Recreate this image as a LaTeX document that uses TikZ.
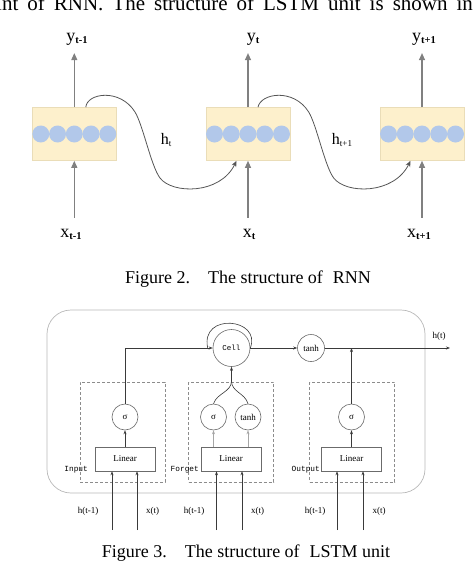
\documentclass[tikz,border=0pt]{standalone}
\usepackage{fontspec}
\setmainfont{Liberation Serif}
\newfontfamily\monof{Liberation Mono}
\usetikzlibrary{arrows.meta}
\definecolor{boxfill}{HTML}{FDF0CC}
\definecolor{boxline}{HTML}{EADDB8}
\definecolor{neu}{HTML}{B2C8EA}
\definecolor{garr}{HTML}{808080}
\definecolor{curv}{HTML}{555555}
\definecolor{frm}{HTML}{B8B8B8}
\definecolor{dsh}{HTML}{8C8C8C}
\definecolor{ln}{HTML}{3A3A3A}
\newcommand{\mysub}[1]{\raisebox{-2pt}{\fontsize{10.5}{10.5}\selectfont\bfseries #1}}
\newcommand{\myhsub}[1]{\raisebox{-2pt}{\fontsize{9}{9}\selectfont #1}}
\begin{document}
\begin{tikzpicture}[x=1pt,y=-1pt,
 rnnbox/.style={draw=boxline, fill=boxfill, minimum width=84pt, minimum height=53pt, inner sep=0pt, line width=0.6pt},
 neuron/.style={circle, fill=neu, minimum size=17pt, inner sep=0pt},
 garrow/.style={draw=garr, line width=1.1pt, -{Triangle[length=7pt,width=6pt]}},
 hcurve/.style={draw=curv, line width=0.8pt, -{Stealth[length=6pt,width=5pt]}},
 biglab/.style={anchor=base, inner sep=0pt, font=\fontsize{18}{18}\selectfont},
 hlab/.style={anchor=base, inner sep=0pt, font=\fontsize{16}{16}\selectfont},
 caption/.style={anchor=base, inner sep=0pt, font=\fontsize{18}{18}\selectfont},
 dbox/.style={draw=dsh, line width=0.6pt, dash pattern=on 3pt off 2pt, minimum width=85pt, minimum height=100pt, inner sep=0pt},
 linbox/.style={draw=ln!75, line width=0.6pt, fill=white, minimum width=60pt, minimum height=24pt, inner sep=0pt, font=\fontsize{9}{9}\selectfont},
 gate/.style={circle, draw=ln!75, line width=0.6pt, fill=white, minimum size=26pt, inner sep=0pt, font=\fontsize{9}{9}\selectfont},
 line/.style={draw=ln, line width=0.6pt},
 larrow/.style={draw=ln, line width=0.6pt, -{Stealth[length=4pt,width=3pt]}},
 lightarrow/.style={draw=ln!45, line width=0.6pt, -{Stealth[length=4pt,width=3pt]}},
 smlab/.style={inner sep=0pt, font=\fontsize{9}{9}\selectfont},
 gatelab/.style={anchor=base east, inner sep=0pt, font=\monof\fontsize{7.8}{8}\selectfont}
]
\useasboundingbox (0,0) rectangle (474,563);

% cut-off text line at the top
\node[anchor=base west, inner sep=0pt, font=\fontsize{21}{21}\selectfont] (toptext) at (-4,10)
  {\spaceskip=9pt int of RNN. The structure of LSTM unit is shown in};

% ---------------- RNN ----------------
\foreach \i/\cx in {1/74.3, 2/248, 3/422} {
  \node[rnnbox] (b\i) at (\cx,134) {};
  \foreach \k in {1,...,5}
    \node[neuron] (n\i\k) at (\cx-50.25+\k*16.75, 134) {};
}
\node[biglab] (y1) at (77,41) {y\mysub{t-1}};
\node[biglab] (y2) at (253,41) {y\mysub{t}};
\node[biglab] (y3) at (424,41) {y\mysub{t+1}};
\node[biglab] (x1) at (71,237) {x\mysub{t-1}};
\node[biglab] (x2) at (249,237) {x\mysub{t}};
\node[biglab] (x3) at (419,237) {x\mysub{t+1}};

\foreach \i in {1,2,3} {
  \draw[garrow, shorten >=8pt] (b\i.north) -- (b\i.north |- y\i.south);
  \draw[garrow, shorten <=11pt] (b\i.south |- x\i.north) -- (b\i.south);
}

\coordinate (c1s) at ([xshift=11.5pt]b1.north);
\coordinate (c1e) at ([xshift=-11.5pt]b2.south);
\coordinate (c2s) at ([xshift=10pt]b2.north);
\coordinate (c2e) at ([xshift=-11.5pt]b3.south);
\draw[hcurve] (c1s) .. controls (87,93) and (120,88) .. (135,112)
  .. controls (143,125) and (151,166) .. (160,178)
  .. controls (172,194) and (220,195) .. (c1e);
\begin{scope}[xshift=173.7pt]
\draw[hcurve] (c2s) .. controls (87,93) and (120,88) .. (135,112)
  .. controls (143,125) and (151,166) .. (160,178)
  .. controls (172,194) and (220,195) .. (c2e);
\end{scope}
\node[hlab] (h1) at (166,144) {h\myhsub{t}};
\node[hlab] (h2) at (342,144) {h\myhsub{t+1}};

\node[caption] (cap2) at (248,283) {Figure 2.\hspace{18pt}The structure of\hspace{10pt}RNN};

% ---------------- LSTM ----------------
\node[draw=frm, line width=0.7pt, rounded corners=24pt, minimum width=378pt, minimum height=183pt, inner sep=0pt] (frame) at (236,401.5) {};

\node[dbox] (di) at (122.5,432) {};
\node[dbox] (df) at (231,432) {};
\node[dbox] (dout) at (352,432) {};

\node[linbox] (li) at (125,459) {Linear};
\node[linbox] (lf) at (231,459) {Linear};
\node[linbox] (lo) at (351.5,459) {Linear};

\node[gate] (si) at (125,417) {σ};
\node[gate] (sf) at (213.5,417) {σ};
\node[gate] (tf) at (248,417) {tanh};
\node[gate] (so) at (351.5,417) {σ};

\node[circle, draw=ln!75, line width=0.6pt, fill=white, minimum size=37pt, inner sep=0pt, font=\monof\fontsize{7.5}{8}\selectfont] (cell) at (231.5,348) {Cell};
\node[gate, minimum size=27pt] (th) at (311,348) {tanh};

% self loop of the cell
\draw[line] (cell.east) .. controls (262,318) and (200,312) .. ([xshift=-5pt]cell.west);

\draw[larrow] (li) -- (si);
\draw[larrow] (si.north) |- (cell.west);
\draw[larrow] (cell) -- (th);
\coordinate (hend) at (450,348);
\draw[larrow] (th) -- (hend);
\node[smlab] (hout) at (439,336) {h(t)};
\coordinate (oj) at (351.5,348);
\draw[larrow] (so) -- (oj);
\draw[larrow] (lo) -- (so);

\draw[lightarrow] (sf.south |- lf.north) -- (sf.south);
\draw[lightarrow] (tf.south |- lf.north) -- (tf.south);
\coordinate (fm) at (231.5,381);
\draw[line] (sf.north) .. controls (217,393) and (231.5,392) .. (fm);
\draw[line] (tf.north) .. controls (245,393) and (231.5,392) .. (fm);
\draw[larrow] (fm) -- (cell.south);

\node[gatelab] (inl) at (88,471) {Input};
\node[gatelab] (fgl) at (199,471) {Forget};
\node[gatelab] (outl) at (320,471) {Output};

\coordinate (a1) at (112,530);
\coordinate (a2) at (137,530);
\coordinate (a3) at (216.5,530);
\coordinate (a4) at (242,530);
\coordinate (a5) at (337,530);
\coordinate (a6) at (363,530);
\draw[larrow] (a1) -- (a1 |- li.south);
\draw[larrow] (a2) -- (a2 |- li.south);
\draw[larrow] (a3) -- (a3 |- lf.south);
\draw[larrow] (a4) -- (a4 |- lf.south);
\draw[larrow] (a5) -- (a5 |- lo.south);
\draw[larrow] (a6) -- (a6 |- lo.south);

\node[smlab] (hi1) at (88,511) {h(t-1)};
\node[smlab] (xi1) at (152.5,511) {x(t)};
\node[smlab] (hi2) at (194,511) {h(t-1)};
\node[smlab] (xi2) at (257.5,511) {x(t)};
\node[smlab] (hi3) at (315,511) {h(t-1)};
\node[smlab] (xi3) at (379,511) {x(t)};

\node[caption] (cap3) at (246,557) {Figure 3.\hspace{18pt}The structure of\hspace{10pt}LSTM unit};
\end{tikzpicture}
\end{document}
